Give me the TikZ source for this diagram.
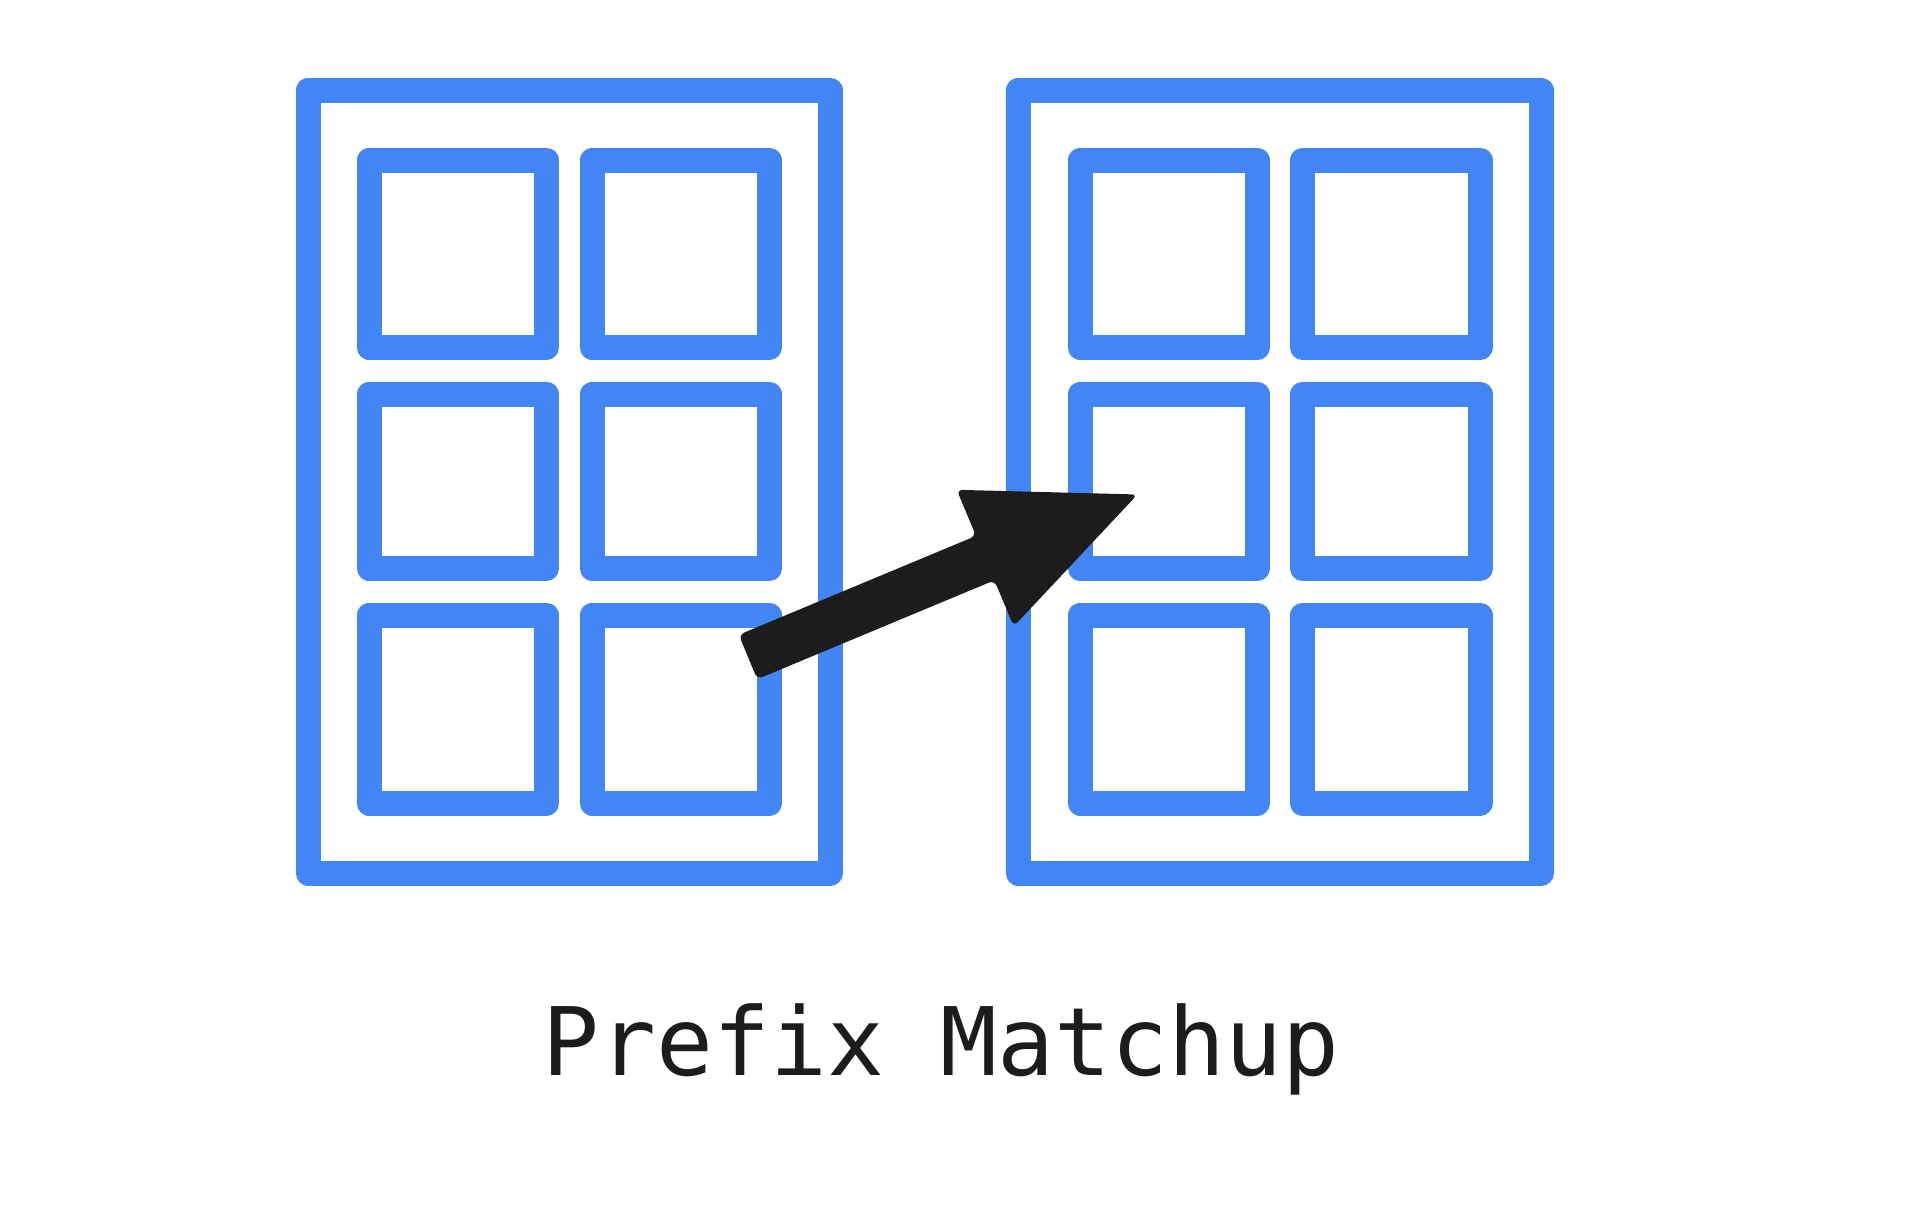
\documentclass[tikz,border=0pt]{standalone}
\usepackage{fontspec}
\newfontfamily\prefixfont{DejaVu Sans Mono}
\definecolor{gblue}{HTML}{4285F4}
\definecolor{arrowblack}{HTML}{1C1C1C}

\begin{document}
\begin{tikzpicture}[x=0.1mm, y=-0.1mm,
    cell/.style={draw=gblue, line width=2.5mm, line join=round},
    pointer/.style={fill=arrowblack, rounded corners=0.6mm}]
  \fill[white] (0,0) rectangle (1928,1217);
  \useasboundingbox (0,0) rectangle (1928,1217);

  % left panel
  \draw[cell] (308,90) rectangle (830,873);
  \draw[cell] (369,160) rectangle (546.5,347.5);
  \draw[cell] (592,160) rectangle (769.5,347.5);
  \draw[cell] (369,394) rectangle (546.5,568.5);
  \draw[cell] (592,394) rectangle (769.5,568.5);
  \draw[cell] (369,615) rectangle (546.5,803);
  \draw[cell] (592,615) rectangle (769.5,803);

  % right panel
  \draw[cell] (1018,90) rectangle (1541,873);
  \draw[cell] (1080,160) rectangle (1257,347.5);
  \draw[cell] (1302.5,160) rectangle (1480,347.5);
  \draw[cell] (1080,394) rectangle (1257,568.5);
  \draw[cell] (1302.5,394) rectangle (1480,568.5);
  \draw[cell] (1080,615) rectangle (1257,803);
  \draw[cell] (1302.5,615) rectangle (1480,803);

  % arrow
  \fill[pointer] (738.8,634.8) -- (976,535.9) -- (956.7,489.8)
    -- (1137.5,494.5) -- (1013.7,626.4) -- (994.4,580.3)
    -- (757.2,679.2) -- cycle;

  \node[anchor=base, inner sep=0pt, text=arrowblack] (title) at (941,1075)
    {\prefixfont\fontsize{26.9pt}{32pt}\selectfont Prefix Matchup};
\end{tikzpicture}
\end{document}
